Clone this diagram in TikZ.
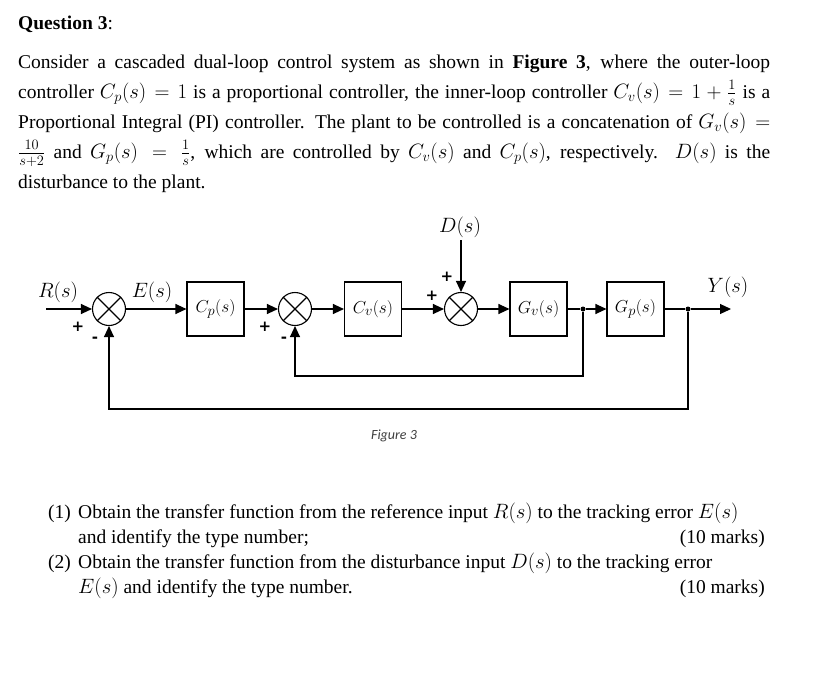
\documentclass[tikz,border=0pt]{standalone}
\usepackage{fontspec}
\setmainfont{Liberation Serif}
\newfontfamily\capfont{Carlito}
\newfontfamily\signfont{DejaVu Sans}
\usetikzlibrary{arrows.meta}
\tikzset{
  txt/.style={anchor=base west,inner sep=0pt,font=\fontsize{19.5}{24}\selectfont},
  txtr/.style={anchor=base east,inner sep=0pt,font=\fontsize{19.5}{24}\selectfont},
  blk/.style={draw,line width=1.1pt,minimum width=57pt,minimum height=54pt,inner sep=0pt,font=\fontsize{19}{22}\selectfont},
  sumj/.style={draw,circle,line width=1.1pt,minimum size=33pt,inner sep=0pt},
  lbl/.style={inner sep=0pt,font=\fontsize{19.5}{22}\selectfont},
  sgn/.style={inner sep=0pt,font=\signfont\bfseries\fontsize{15}{16}\selectfont},
  wire/.style={line width=1.1pt},
  arr/.style={line width=1.1pt,-{Triangle[length=11pt,width=10pt]}},
  dotp/.style={circle,fill,inner sep=0pt,minimum size=5pt}
}
\begin{document}
\begin{tikzpicture}[x=1pt,y=-1pt]
\useasboundingbox (0,0) rectangle (824,696);
% header text
\node[txt] (q3) at (18,29) {\textbf{Question 3}:};
\node[txt] (l1) at (18,68) {\makebox[752pt][s]{Consider a cascaded dual-loop control system as shown in \textbf{Figure 3}, where the outer-loop}};
\node[txt] (l2) at (18,98) {\makebox[752pt][s]{controller $C_p(s)=1$ is a proportional controller, the inner-loop controller $C_v(s)=1+\frac{1}{s}$ is a}};
\node[txt] (l3) at (18,128) {\makebox[752pt][s]{Proportional Integral (PI) controller. The plant to be controlled is a concatenation of $G_v(s)=$}};
\node[txt] (l4) at (18,158) {\makebox[752pt][s]{$\frac{10}{s+2}$ and $G_p(s)=\frac{1}{s}$, which are controlled by $C_v(s)$ and $C_p(s)$, respectively. $D(s)$ is the}};
\node[txt] (l5) at (18,188) {disturbance to the plant.};
% diagram
\node[sumj] (s1) at (109,309) {};
\node[blk] (cp) at (215.5,309) {$C_p(s)$};
\node[sumj] (s2) at (295,309) {};
\node[blk] (cv) at (373,309) {$C_v(s)$};
\node[sumj] (s3) at (461,309) {};
\node[blk] (gv) at (538.5,309) {$G_v(s)$};
\node[blk] (gp) at (635.5,309) {$G_p(s)$};
\foreach \s in {s1,s2,s3}{
  \draw[wire] (\s.north west) -- (\s.south east);
  \draw[wire] (\s.north east) -- (\s.south west);
}
\node[dotp] (d1) at (583,309) {};
\node[dotp] (d2) at (688,309) {};
\coordinate (in) at (46,309);
\coordinate (out) at (731,309);
\coordinate (dtop) at (461,240);
\coordinate (fb1) at (583,376);
\coordinate (fb2) at (688,409);
\draw[arr] (in) -- (s1);
\draw[arr] (s1) -- (cp);
\draw[arr] (cp) -- (s2);
\draw[arr] (s2) -- (cv);
\draw[arr] (cv) -- (s3);
\draw[arr] (dtop) -- (s3);
\draw[arr] (s3) -- (gv);
\draw[wire] (gv) -- (d1);
\draw[arr] (d1) -- (gp);
\draw[wire] (gp) -- (d2);
\draw[arr] (d2) -- (out);
\draw[arr] (d1) -- (fb1) -| (s2);
\draw[arr] (d2) -- (fb2) -| (s1);
% labels
\node[lbl] (rl) at (58,292) {$R(s)$};
\node[lbl] (el) at (152,292) {$E(s)$};
\node[lbl] (dl) at (460,227) {$D(s)$};
\node[lbl] (yl) at (728,287) {$Y(s)$};
\node[sgn] (p1) at (78,327) {+};
\node[sgn] (m1) at (95,340) {-};
\node[sgn] (p2) at (265,327) {+};
\node[sgn] (m2) at (284,340) {-};
\node[sgn] (p3) at (432,296) {+};
\node[sgn] (p4) at (447,277) {+};
\node[inner sep=0pt,font=\capfont\itshape\fontsize{14}{16}\selectfont,text=black!75] (fig) at (394,436) {Figure 3};
% questions
\node[txt] (n1) at (48,518) {(1)};
\node[txt] (q1a) at (78,518) {Obtain the transfer function from the reference input $R(s)$ to the tracking error $E(s)$};
\node[txt] (q1b) at (78,543) {and identify the type number;};
\node[txtr] (m1r) at (765,543) {(10 marks)};
\node[txt] (n2) at (48,568) {(2)};
\node[txt] (q2a) at (78,568) {Obtain the transfer function from the disturbance input $D(s)$ to the tracking error};
\node[txt] (q2b) at (78,593) {$E(s)$ and identify the type number.};
\node[txtr] (m2r) at (765,593) {(10 marks)};
\end{tikzpicture}
\end{document}
